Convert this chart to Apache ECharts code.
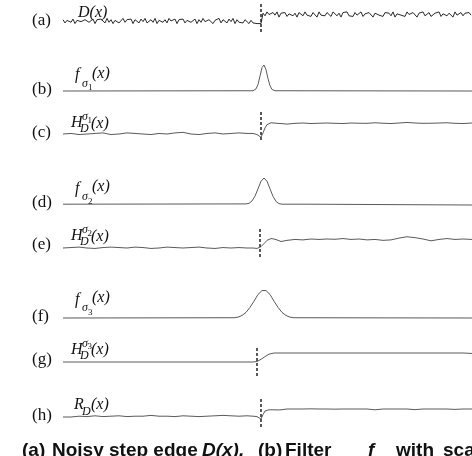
<!DOCTYPE html>
<html>
<head>
<meta charset="utf-8">
<script src="https://cdn.jsdelivr.net/npm/echarts@6/dist/echarts.min.js"></script>
<style>
  html, body { margin: 0; padding: 0; background: #fff; }
  #main { width: 472px; height: 456px; }
</style>
</head>
<body>
<div id="main"></div>
<script>
// (a) noisy step D(x), one sample every 2 px, edge at sample 198
const dVals = [
  0.2, -0.3, 0.1, 0.4, -0.2, 0.3, -0.4, 0.1, 0.3, -0.1,
  -0.3, 0.2, 0.4, -0.2, 0.0, 0.3, -0.4, 0.2, -0.1, 0.3,
  0.1, -0.3, 0.4, -0.2, 0.2, -0.4, 0.1, 0.3, -0.3, 0.0,
  0.4, -0.2, 0.2, -0.1, 0.3, -0.4, 0.2, 0.1, -0.3, 0.3,
  -0.1, 0.4, -0.3, 0.0, 0.2, -0.2, 0.4, -0.4, 0.1, 0.3,
  -0.2, 0.2, -0.3, 0.4, 0.0, -0.2, 0.3, -0.4, 0.2, -0.1,
  0.3, -0.3, 0.1, 0.4, -0.2, 0.0, 0.3, -0.4, 0.2, -0.2,
  0.4, -0.1, -0.3, 0.2, 0.3, -0.4, 0.1, -0.2, 0.4, -0.3,
  0.2, 0.0, -0.3, 0.3, -0.1, 0.4, -0.4, 0.2, -0.2, 0.1,
  -0.3, 0.2, -0.1, -0.4, 0.1, -0.3, -0.2, -0.4, -0.3,
  -0.4,
  1.2, 0.8, 1.4, 1.0, 0.7, 1.3, 0.9, 1.4, 0.6, 1.2,
  1.0, 1.3, 0.7, 1.1, 1.4, 0.8, 1.2, 0.6, 1.3, 1.0,
  0.8, 1.4, 0.9, 1.2, 0.7, 1.3, 1.1, 0.6, 1.4, 0.9,
  1.2, 0.8, 1.3, 1.0, 0.7, 1.4, 1.1, 0.8, 1.2, 0.6,
  1.3, 1.0, 1.4, 0.8, 1.1, 0.7, 1.3, 0.9, 1.2, 1.4,
  0.7, 1.1, 0.8, 1.3, 1.0, 0.6, 1.2, 1.4, 0.9, 1.1,
  0.7, 1.3, 1.0, 1.2, 0.8, 1.4, 0.6, 1.1, 1.3, 0.9,
  1.2, 0.7, 1.4, 1.0, 0.8, 1.3, 1.1, 0.6, 1.2, 0.9,
  1.4, 0.8, 1.1, 1.3, 0.7, 1.0, 1.2, 0.9, 1.4, 0.7,
  1.1, 1.3, 0.8, 1.2, 1.0, 0.6, 1.4, 0.9, 1.1, 1.3,
  0.8, 1.2, 1.0, 1.3, 0.9
]
const dX = dVals.map((v, i) => i * 2)

// filters f_sigma1..3
const f1X = [0, 190, 193, 195, 197, 199, 201, 203, 205, 207, 209, 212, 409]
const f1Vals = [0, 0.01, 0.08, 0.25, 0.57, 0.9, 1.0, 0.82, 0.48, 0.2, 0.06, 0.01, 0]
const f2X = [0, 183, 186, 189, 192, 195, 198, 201, 204, 207, 210, 213, 216, 219, 244, 245, 409]
const f2Vals = [0.03, 0.04, 0.06, 0.15, 0.33, 0.6, 0.88, 1.0, 0.88, 0.6, 0.32, 0.13, 0.05, 0.03, 0.03, 0, 0]
const f3X = [0, 171, 175, 179, 183, 187, 191, 195, 199, 201, 203, 207, 211, 215, 219, 223, 227, 231, 409]
const f3Vals = [0, 0.01, 0.03, 0.09, 0.2, 0.38, 0.6, 0.84, 0.98, 1.0, 0.98, 0.84, 0.6, 0.38, 0.2, 0.09, 0.03, 0.01, 0]

// responses H_D^sigma1..3 and R_D, shared sample positions
const hX = [
  0, 8, 16, 24, 32, 40, 48, 56, 64, 72, 80, 88, 96, 104, 112, 120, 128, 136, 144, 152, 160, 168, 176, 184,
  190, 194, 196, 198, 200, 202, 204, 206, 208, 211, 214, 218,
  224, 232, 240, 248, 256, 264, 272, 280, 288, 296, 304, 312, 320, 328, 336, 344, 352, 360, 368, 376, 384, 392, 400,
  409
]
const h1Vals = [
  0.0, 0.05, -0.05, 0.0, 0.05, 0.1, -0.05, 0.0, 0.1, 0.05, 0.0, -0.05, 0.05, 0.0, 0.1, 0.15, 0.0, -0.05, 0.05, 0.1, 0.0, 0.05, 0.1, 0.05,
  0.05, -0.05, -0.15, -0.3, 0.1, 0.55, 0.85, 0.98, 1.02, 1.0, 0.97, 0.95,
  0.9, 0.97, 1.0, 0.95, 0.98, 1.0, 0.97, 0.95, 1.0, 0.98, 0.97, 1.02, 0.98, 0.95, 1.0, 1.05, 1.0, 0.97, 0.98, 1.0, 1.02, 0.97, 0.95,
  1.0
]
const h2Vals = [
  0.0, 0.05, 0.1, 0.0, -0.05, 0.05, 0.1, 0.05, 0.0, 0.1, 0.05, -0.05, 0.0, 0.1, 0.05, 0.0, 0.05, 0.1, 0.0, -0.05, 0.05, 0.0, 0.05, 0.0,
  0.0, -0.05, 0.0, 0.15, 0.35, 0.6, 0.85, 1.0, 1.05, 1.0, 0.9, 0.72,
  0.85, 0.95, 0.9, 1.0, 0.95, 1.0, 0.97, 1.05, 0.95, 1.0, 0.9, 0.95, 0.85, 0.9, 1.1, 1.25, 1.15, 1.0, 0.8, 0.95, 1.05, 0.95, 1.0,
  0.95
]
const h3Vals = [
  0, 0, 0, 0, 0, 0, 0, 0, 0, 0, 0, 0, 0, 0, 0, 0, 0, 0, 0, 0, 0, 0, 0, 0,
  0, 0.05, 0.15, 0.3, 0.45, 0.6, 0.75, 0.87, 0.96, 1.0, 1.0, 1.0,
  1.0, 1.0, 1.0, 1.0, 1.0, 1.0, 1.0, 1.0, 1.0, 1.0, 1.0, 1.0, 1.0, 1.0, 1.0, 1.0, 1.0, 1.0, 1.0, 1.0, 1.0, 1.0, 1.0,
  0.95
]
const rVals = [
  0.0, 0.0, 0.1, 0.05, 0.15, 0.05, 0.1, 0.15, 0.05, 0.1, 0.1, 0.2, 0.1, 0.1, 0.05, 0.15, 0.1, 0.05, 0.1, 0.15, 0.2, 0.15, 0.1, 0.15,
  0.1, 0.05, -0.05, -0.25, 0.3, 0.75, 0.95, 0.9, 0.88, 0.9, 0.88, 0.9,
  1.0, 1.0, 1.0, 1.02, 1.0, 1.0, 0.98, 1.0, 1.0, 1.0, 1.0, 0.9, 1.0, 1.0, 1.0, 1.0, 0.92, 1.0, 1.0, 1.0, 1.0, 0.95, 1.0,
  1.0
]

// dashed edge markers per row (null = none)
const edgeX = [198, null, 198, null, 196.3, null, 193.7, 198]
const rowTags = ['(a)', '(b)', '(c)', '(d)', '(e)', '(f)', '(g)', '(h)']

const seriesList = [
  [dX, dVals], [f1X, f1Vals], [hX, h1Vals], [f2X, f2Vals],
  [hX, h2Vals], [f3X, f3Vals], [hX, h3Vals], [hX, rVals]
]

/** 每一行的位置：基线、单位像素、上下边界 */
const rowLayout = [
  { y0: 21, u: 6.5, top: 2, bottom: 32, tagY: 21 },
  { y0: 91, u: 26, top: 60, bottom: 96, tagY: 90 },
  { y0: 134, u: 11, top: 110, bottom: 140, tagY: 133 },
  { y0: 205, u: 27, top: 172, bottom: 210, tagY: 203 },
  { y0: 248, u: 9, top: 227, bottom: 257, tagY: 245 },
  { y0: 318, u: 28, top: 285, bottom: 323, tagY: 317 },
  { y0: 362, u: 9, top: 346, bottom: 376, tagY: 360 },
  { y0: 417, u: 8, top: 397, bottom: 427, tagY: 416 }
]

const SERIF = '"Liberation Serif", "DejaVu Serif", serif'

function txt(text, x, y, size, opts) {
  opts = opts || {}
  return {
    type: 'text',
    x: x,
    y: y,
    silent: true,
    style: {
      text: text,
      font: (opts.italic ? 'italic ' : '') + (opts.bold ? 'bold ' : '') + size + 'px ' + (opts.family || SERIF),
      fill: opts.color || '#111',
      textAlign: 'left',
      textVerticalAlign: opts.va || 'middle',
      align: 'left',
      verticalAlign: opts.va || 'middle'
    }
  }
}

// f_sigma_n(x) label, anchor = centre of "(x)"
function fLabel(n, ay) {
  return [
    txt('f', 75, ay + 1.5, 16, { italic: true }),
    txt('σ', 82, ay + 10, 12, { italic: true }),
    txt(n, 88, ay + 14.5, 9),
    txt('(x)', 92, ay, 16, { italic: true })
  ]
}

// H_D^sigma_n(x) label
function hLabel(n, ay) {
  return [
    txt('H', 71, ay - 0.5, 16, { italic: true }),
    txt('σ', 82, ay - 6.5, 12, { italic: true }),
    txt('D', 80, ay + 5.5, 12, { italic: true }),
    txt(n, 87.5, ay - 3, 9),
    txt('(x)', 91, ay, 16, { italic: true })
  ]
}

const chart = echarts.init(document.getElementById('main'), null, { renderer: 'canvas' })

const grids = []
const xAxes = []
const yAxes = []
const series = []

rowLayout.forEach((r, i) => {
  grids.push({ left: 63, width: 409, top: r.top, height: r.bottom - r.top })
  xAxes.push({ type: 'value', gridIndex: i, min: 0, max: 409, show: false })
  yAxes.push({
    type: 'value',
    gridIndex: i,
    min: -(r.bottom - r.y0) / r.u,
    max: (r.y0 - r.top) / r.u,
    show: false
  })
  const xs = seriesList[i][0]
  const ys = seriesList[i][1]
  const s = {
    type: 'line',
    xAxisIndex: i,
    yAxisIndex: i,
    data: xs.map((x, k) => [x, ys[k]]),
    showSymbol: false,
    clip: false,
    silent: true,
    lineStyle: { color: i === 0 ? '#2a2a2a' : '#5a5a5a', width: 1 }
  }
  if (edgeX[i] !== null) {
    s.markLine = {
      silent: true,
      symbol: ['none', 'none'],
      label: { show: false },
      lineStyle: { type: [3, 2], color: '#222', width: 1.5 },
      data: [{ xAxis: edgeX[i] }]
    }
  }
  series.push(s)
})

let graphics = []
rowLayout.forEach((r, i) => {
  graphics.push(txt(rowTags[i], 32, r.tagY, 17))
})
graphics.push(txt('D(x)', 78, 12.5, 16, { italic: true }))
graphics = graphics.concat(fLabel('1', 73.5))
graphics = graphics.concat(hLabel('1', 123.5))
graphics = graphics.concat(fLabel('2', 187))
graphics = graphics.concat(hLabel('2', 236.5))
graphics = graphics.concat(fLabel('3', 298))
graphics = graphics.concat(hLabel('3', 350))
graphics.push(txt('R', 74, 405, 16, { italic: true }))
graphics.push(txt('D', 82, 411.5, 12, { italic: true }))
graphics.push(txt('(x)', 91, 405, 16, { italic: true }))

// caption, cut off at the bottom edge
const CAP = '"Liberation Sans", Arial, sans-serif'
const capY = 441
const capOpt = { bold: true, family: CAP, va: 'top' }
const capItalic = { bold: true, italic: true, family: CAP, va: 'top' }
graphics.push(txt('(a)', 22, capY, 19, capOpt))
graphics.push(txt('Noisy step edge', 52, capY, 19, capOpt))
graphics.push(txt('D(x).', 202, capY, 19, capItalic))
graphics.push(txt('(b)', 258, capY, 19, capOpt))
graphics.push(txt('Filter', 285, capY, 19, capOpt))
graphics.push(txt('f', 368, capY, 19, capItalic))
graphics.push(txt('with', 396, capY, 19, capOpt))
graphics.push(txt('scale', 443, capY, 19, capOpt))

chart.setOption({
  animation: false,
  backgroundColor: '#fff',
  grid: grids,
  xAxis: xAxes,
  yAxis: yAxes,
  series: series,
  graphic: graphics
})
</script>
</body>
</html>
